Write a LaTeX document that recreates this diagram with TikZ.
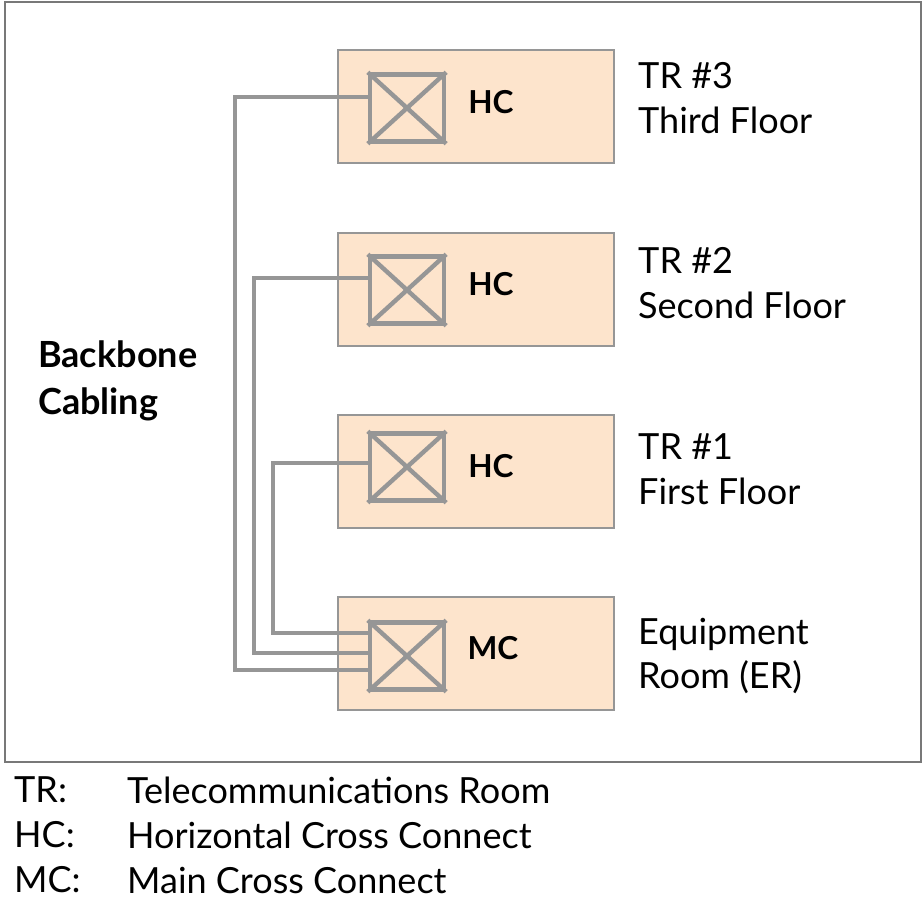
\documentclass[tikz,border=0pt]{standalone}
\usepackage{fontspec}
\setmainfont{Lato}
\usetikzlibrary{positioning}
\definecolor{roomfill}{RGB}{253,228,204}
\definecolor{cablegray}{RGB}{150,150,150}
\tikzstyle{room} = [draw=cablegray, fill=roomfill, line width=1.5pt, minimum width=5.52cm, minimum height=2.26cm, inner sep=0pt]
\tikzstyle{xconn} = [draw=cablegray, line width=2.5pt, minimum width=1.48cm, minimum height=1.34cm, inner sep=0pt]
\tikzstyle{cable} = [draw=cablegray, line width=2.5pt]
\tikzstyle{tag} = [font=\bfseries\fontsize{18}{20}\selectfont]
\tikzstyle{desc} = [align=left, anchor=west, font=\fontsize{20.5}{25.6}\selectfont]
\begin{document}
\begin{tikzpicture}[x=0.02cm, y=-0.02cm]
  \useasboundingbox (0,0) rectangle (923,900);
  \draw [cablegray!80!black, line width=1pt] (5,2) rectangle (921,762);

  \node (er) [room] at (476,653.5) {};
  \node (tr1) [room] at (476,471.5) {};
  \node (tr2) [room] at (476,289.5) {};
  \node (tr3) [room] at (476,106.5) {};

  \node (mc) [xconn] at (407,656) {};
  \node (hc1) [xconn] at (407,467) {};
  \node (hc2) [xconn] at (407,290) {};
  \node (hc3) [xconn] at (407,108) {};

  \foreach \s in {mc,hc1,hc2,hc3} {
    \draw [cable] (\s.north west) -- (\s.south east);
    \draw [cable] (\s.south west) -- (\s.north east);
  }

  \node [tag] at (491,102) {HC};
  \node [tag] at (491,284) {HC};
  \node [tag] at (491,466) {HC};
  \node [tag] at (493,648) {MC};

  \node [desc] at (632,98) {TR \#3\\Third Floor};
  \node [desc] at (632,283) {TR \#2\\Second Floor};
  \node [desc] at (632,469) {TR \#1\\First Floor};
  \node [desc] at (632,656) {Equipment\\Room (ER)};

  \node [desc, font=\fontsize{20.5}{26.5}\selectfont\bfseries] at (32,381) {Backbone\\Cabling};

  % backbone runs
  \draw [cable] (hc3.west |- 0,97) -| (235,670) -- (mc.west |- 0,670);
  \draw [cable] (hc2.west |- 0,278) -| (254,653) -- (mc.west |- 0,653);
  \draw [cable] (hc1.west |- 0,463) -| (273,633) -- (mc.west |- 0,633);

  \node [desc] at (8,790) {TR:};
  \node [desc] at (8,835) {HC:};
  \node [desc] at (8,880) {MC:};
  \node [desc] at (121,790) {Telecommunications Room};
  \node [desc] at (121,835) {Horizontal Cross Connect};
  \node [desc] at (121,880) {Main Cross Connect};
\end{tikzpicture}
\end{document}
